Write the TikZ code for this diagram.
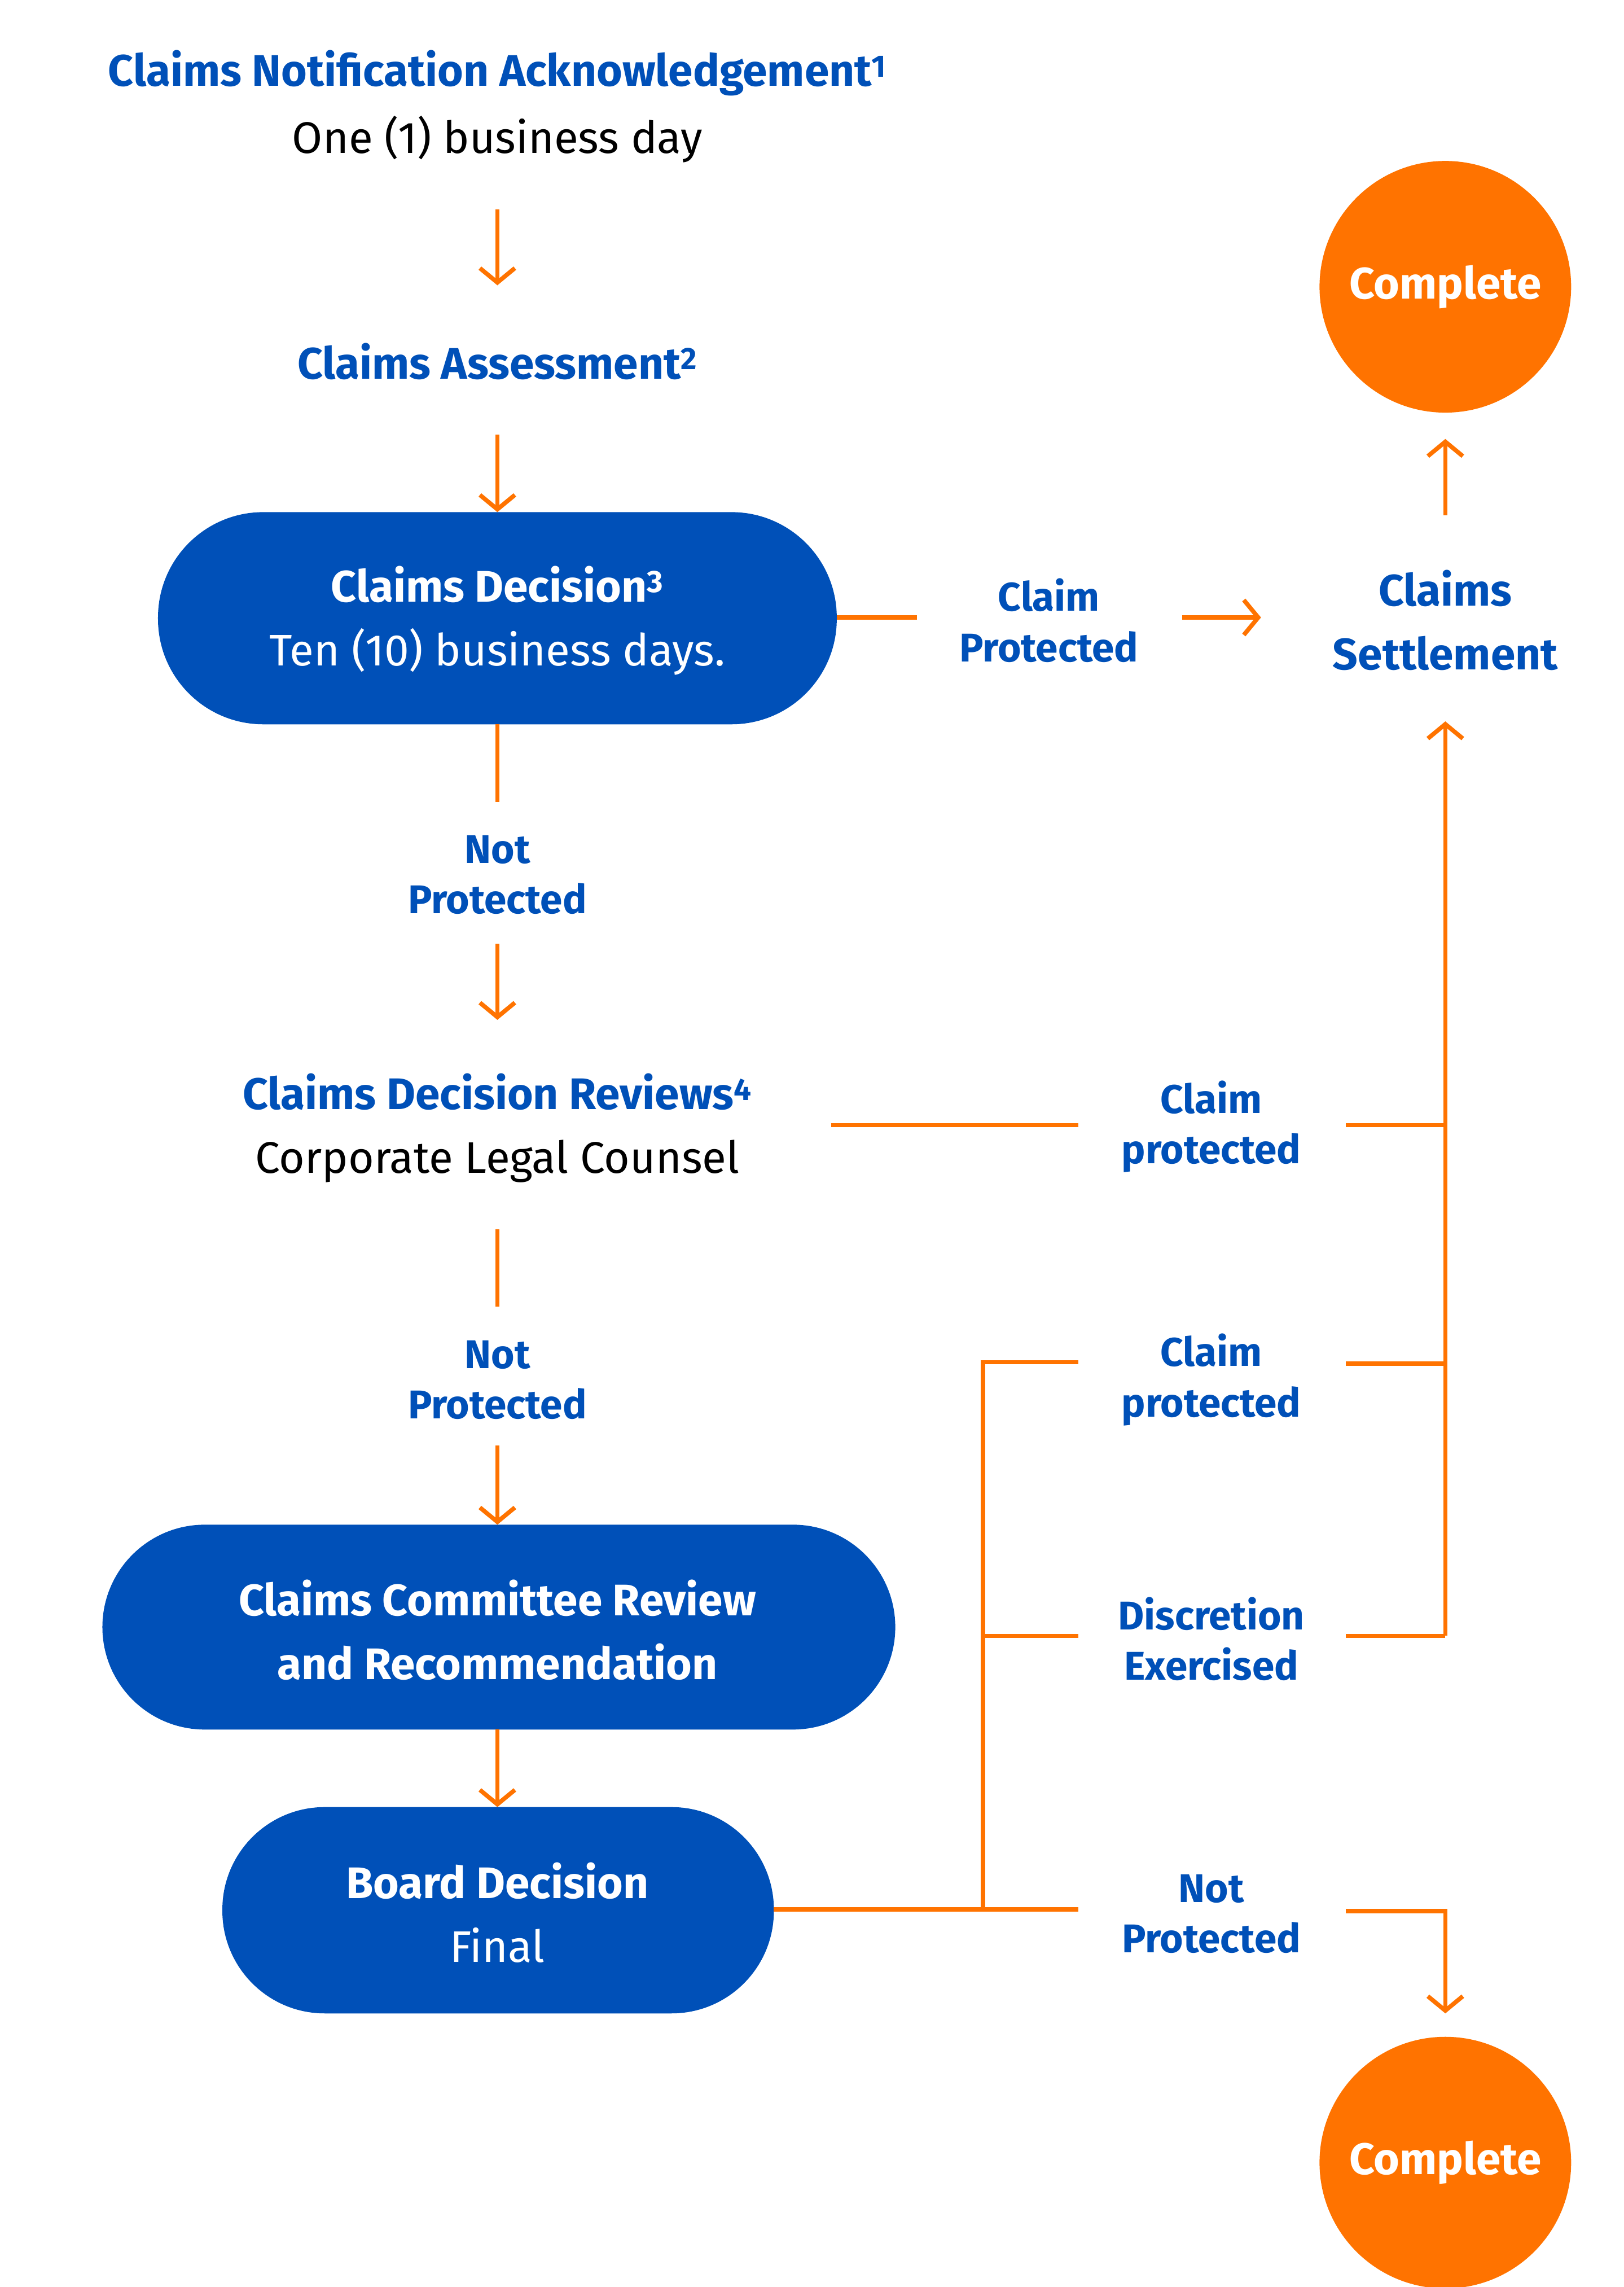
\documentclass[tikz,border=0pt]{standalone}
\usepackage{fontspec}
\setmainfont{Fira Sans}
\usetikzlibrary{arrows.meta}
\definecolor{cblue}{HTML}{0050B8}
\definecolor{corange}{HTML}{FF7300}
\begin{document}
\begin{tikzpicture}[x=0.05cm,y=-0.05cm,
 ln/.style={corange,line width=4.2pt},
 ar/.style={ln,-{Straight Barb[length=14pt,width=34pt,line width=4.2pt]}},
 big/.style={font=\fontsize{43}{62}\selectfont,align=center},
 lab/.style={font=\fontsize{39}{49}\selectfont\bfseries,text=cblue,align=center},
 pill/.style={fill=cblue,rounded corners=70*0.05cm,draw=none},
 done/.style={circle,fill=corange,minimum size=172*0.05cm,inner sep=0,text=white,font=\fontsize{43}{50}\selectfont\bfseries}]
\useasboundingbox (0,0) rectangle (1110,1563);
\node[big,text=cblue] (t1) at (340,50) {\bfseries Claims Notification Acknowledgement\textsuperscript{1}};
\node[big] (t1b) at (340,95) {One (1) business day};
\coordinate (a1) at (340,143); \coordinate (a1e) at (340,195);
\draw[ar] (a1) -- (a1e);
\node[big,text=cblue] (ca) at (340,247) {\bfseries Claims Assessment\textsuperscript{2}};
\coordinate (a2) at (340,297); \coordinate (a2e) at (340,350);
\draw[ar] (a2) -- (a2e);
\fill[pill,rounded corners=72*0.05cm] (108,350) rectangle (572,495);
\node[big,text=white] (cd) at (340,424) {\bfseries Claims Decision\textsuperscript{3}\\ Ten (10) business days.};
\coordinate (cdr) at (572,422); \coordinate (cdr2) at (627,422);
\draw[ln] (cdr) -- (cdr2);
\node[lab] (cp1) at (717,424) {Claim\\Protected};
\coordinate (a3) at (808,422); \coordinate (a3e) at (862,422);
\draw[ar] (a3) -- (a3e);
\node[big,text=cblue] (cs) at (988,424) {\bfseries Claims\\ \bfseries Settlement};
\coordinate (a4) at (988,352); \coordinate (a4e) at (988,300);
\draw[ar] (a4) -- (a4e);
\node[done] (c1) at (988,196) {Complete};
\coordinate (b1) at (340,495); \coordinate (b1e) at (340,548);
\draw[ln] (b1) -- (b1e);
\node[lab] (np1) at (340,598) {Not\\Protected};
\coordinate (a5) at (340,645); \coordinate (a5e) at (340,697);
\draw[ar] (a5) -- (a5e);
\node[big] (rv) at (340,771) {\textcolor{cblue}{\bfseries Claims Decision Reviews\textsuperscript{4}}\\ Corporate Legal Counsel};
\coordinate (r1) at (568,769); \coordinate (r1e) at (737,769);
\draw[ln] (r1) -- (r1e);
\node[lab] (cp2) at (828,770) {Claim\\protected};
\coordinate (r2) at (920,769); \coordinate (r2e) at (988,769);
\draw[ln] (r2) -- (r2e);
\coordinate (v1) at (988,1118); \coordinate (v1e) at (988,493);
\draw[ar] (v1) -- (v1e);
\coordinate (b2) at (340,840); \coordinate (b2e) at (340,893);
\draw[ln] (b2) -- (b2e);
\node[lab] (np2) at (340,943) {Not\\Protected};
\coordinate (a6) at (340,988); \coordinate (a6e) at (340,1042);
\draw[ar] (a6) -- (a6e);
\fill[pill] (70,1042) rectangle (612,1182);
\node[big,text=white] (ccr) at (340,1114) {\bfseries Claims Committee Review\\ \bfseries and Recommendation};
\coordinate (a7) at (340,1182); \coordinate (a7e) at (340,1235);
\draw[ar] (a7) -- (a7e);
\fill[pill] (152,1235) rectangle (529,1376);
\node[big,text=white] (bd) at (340,1307) {\bfseries Board Decision\\ Final};
\coordinate (bdr) at (529,1305); \coordinate (j1) at (672,1305); \coordinate (bde) at (737,1305);
\draw[ln] (bdr) -- (bde);
\coordinate (j2) at (672,931); \coordinate (j2e) at (737,931);
\coordinate (j3) at (672,1118); \coordinate (j3e) at (737,1118);
\draw[ln] (j1) -- (j2) -- (j2e);
\draw[ln] (j3) -- (j3e);
\node[lab] (cp3) at (828,943) {Claim\\protected};
\node[lab] (de) at (828,1120) {Discretion\\Exercised};
\node[lab] (np3) at (828,1308) {Not\\Protected};
\coordinate (k1) at (920,932); \coordinate (k1e) at (988,932);
\coordinate (k2) at (920,1118); \coordinate (k2e) at (988,1118);
\draw[ln] (k1) -- (k1e);
\draw[ln] (k2) -- (k2e);
\coordinate (k3) at (920,1306); \coordinate (k3c) at (988,1306); \coordinate (k3e) at (988,1376);
\draw[ar] (k3) -- (k3c) -- (k3e);
\node[done] (c2) at (988,1478) {Complete};
\end{tikzpicture}
\end{document}
